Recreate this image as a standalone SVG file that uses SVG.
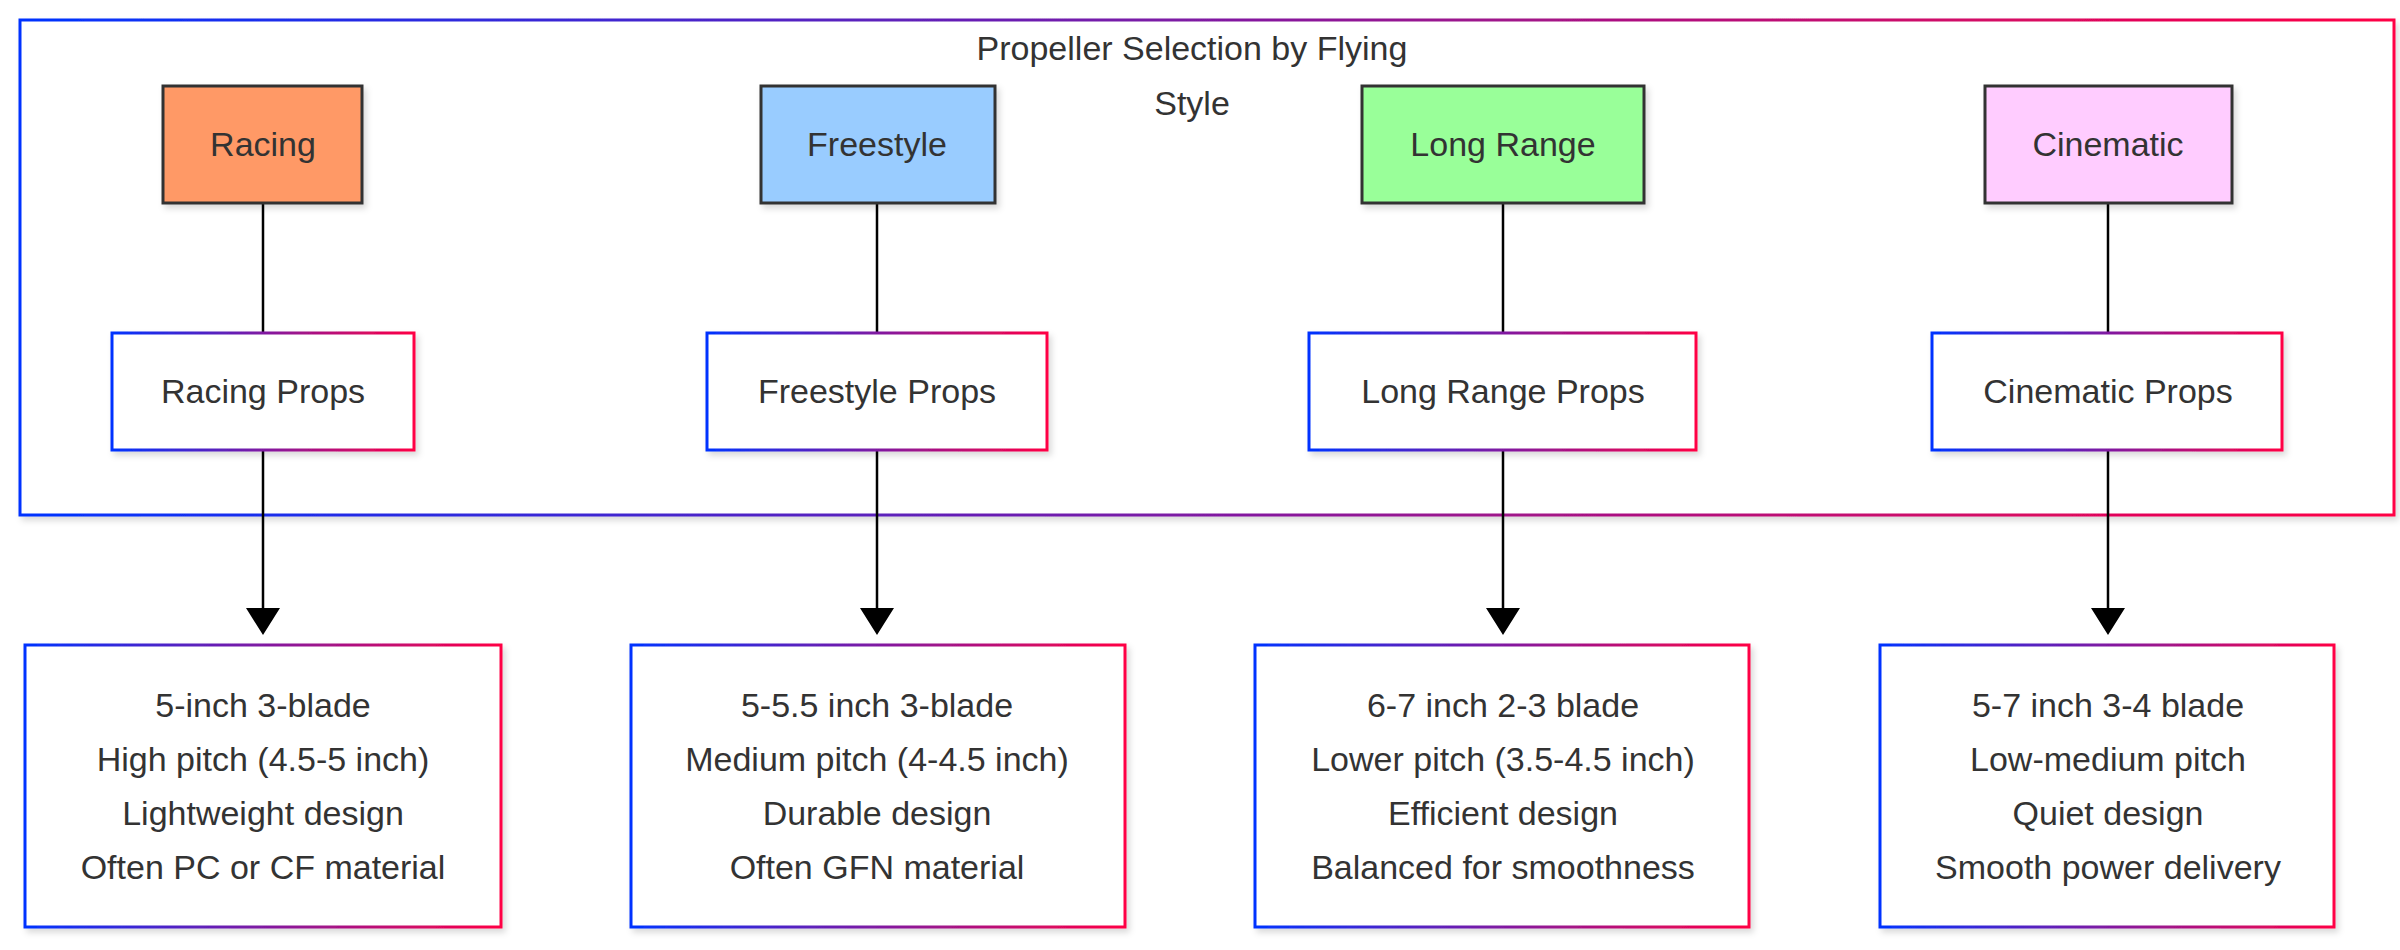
<svg xmlns="http://www.w3.org/2000/svg" width="2400" height="950" viewBox="0 0 2400 950">
<defs>
<linearGradient id="g" x1="0" y1="0" x2="1" y2="0"><stop offset="0" stop-color="#0033ff"/><stop offset="1" stop-color="#ff0044"/></linearGradient>
<filter id="sh" x="-10%" y="-10%" width="130%" height="130%"><feDropShadow dx="3" dy="4" stdDeviation="3" flood-color="#000" flood-opacity="0.15"/></filter>
<marker id="ah" viewBox="0 0 10 10" refX="10" refY="5" markerWidth="10" markerHeight="10" markerUnits="userSpaceOnUse" orient="auto"><path d="M0,0L10,5L0,10z" fill="#000"/></marker>
<style>
text{font-family:"Liberation Sans",Arial,sans-serif;font-size:34px;fill:#333;text-anchor:middle}
.gb{fill:#fff;stroke:url(#g);stroke-width:3;filter:url(#sh)}
.tb{stroke:#333;stroke-width:3;filter:url(#sh)}
.c{stroke:#000;stroke-width:2.5;fill:none}
</style>
<marker id="a2" viewBox="0 0 33 28" refX="33" refY="16.5" markerWidth="28" markerHeight="33" markerUnits="userSpaceOnUse" orient="auto"><path d="M0,0L28,16.5L0,33z" fill="#000"/></marker>
</defs>
<rect width="2400" height="950" fill="#fff"/>
<g id="group"><rect class="gb" x="20" y="20" width="2374" height="495"/>
<text x="1192" y="60">Propeller Selection by Flying</text><text x="1192" y="115">Style</text></g>
<g id="connectors">
<path class="c" d="M263,203V333M877,203V333M1503,203V333M2108,203V333"/>
<path class="c" d="M263,450V608M877,450V608M1503,450V608M2108,450V608"/>
<path d="M246,608h34l-17,27z M860,608h34l-17,27z M1486,608h34l-17,27z M2091,608h34l-17,27z" fill="#000"/>
</g>
<g id="racing"><rect class="tb" fill="#ff9966" x="163" y="86" width="199" height="117"/><text x="263" y="156">Racing</text></g>
<g id="freestyle"><rect class="tb" fill="#99ccff" x="761" y="86" width="234" height="117"/><text x="877" y="156">Freestyle</text></g>
<g id="longrange"><rect class="tb" fill="#99ff99" x="1362" y="86" width="282" height="117"/><text x="1503" y="156">Long Range</text></g>
<g id="cinematic"><rect class="tb" fill="#ffccff" x="1985" y="86" width="247" height="117"/><text x="2108" y="156">Cinematic</text></g>
<g id="racingprops"><rect class="gb" x="112" y="333" width="302" height="117"/><text x="263" y="403">Racing Props</text></g>
<g id="freestyleprops"><rect class="gb" x="707" y="333" width="340" height="117"/><text x="877" y="403">Freestyle Props</text></g>
<g id="longrangeprops"><rect class="gb" x="1309" y="333" width="387" height="117"/><text x="1503" y="403">Long Range Props</text></g>
<g id="cinematicprops"><rect class="gb" x="1932" y="333" width="350" height="117"/><text x="2108" y="403">Cinematic Props</text></g>
<g id="racingspec"><rect class="gb" x="25" y="645" width="476" height="282"/>
<text x="263" y="717">5-inch 3-blade</text><text x="263" y="771">High pitch (4.5-5 inch)</text><text x="263" y="825">Lightweight design</text><text x="263" y="879">Often PC or CF material</text></g>
<g id="freestylespec"><rect class="gb" x="631" y="645" width="494" height="282"/>
<text x="877" y="717">5-5.5 inch 3-blade</text><text x="877" y="771">Medium pitch (4-4.5 inch)</text><text x="877" y="825">Durable design</text><text x="877" y="879">Often GFN material</text></g>
<g id="longrangespec"><rect class="gb" x="1255" y="645" width="494" height="282"/>
<text x="1503" y="717">6-7 inch 2-3 blade</text><text x="1503" y="771">Lower pitch (3.5-4.5 inch)</text><text x="1503" y="825">Efficient design</text><text x="1503" y="879">Balanced for smoothness</text></g>
<g id="cinematicspec"><rect class="gb" x="1880" y="645" width="454" height="282"/>
<text x="2108" y="717">5-7 inch 3-4 blade</text><text x="2108" y="771">Low-medium pitch</text><text x="2108" y="825">Quiet design</text><text x="2108" y="879">Smooth power delivery</text></g>
</svg>
